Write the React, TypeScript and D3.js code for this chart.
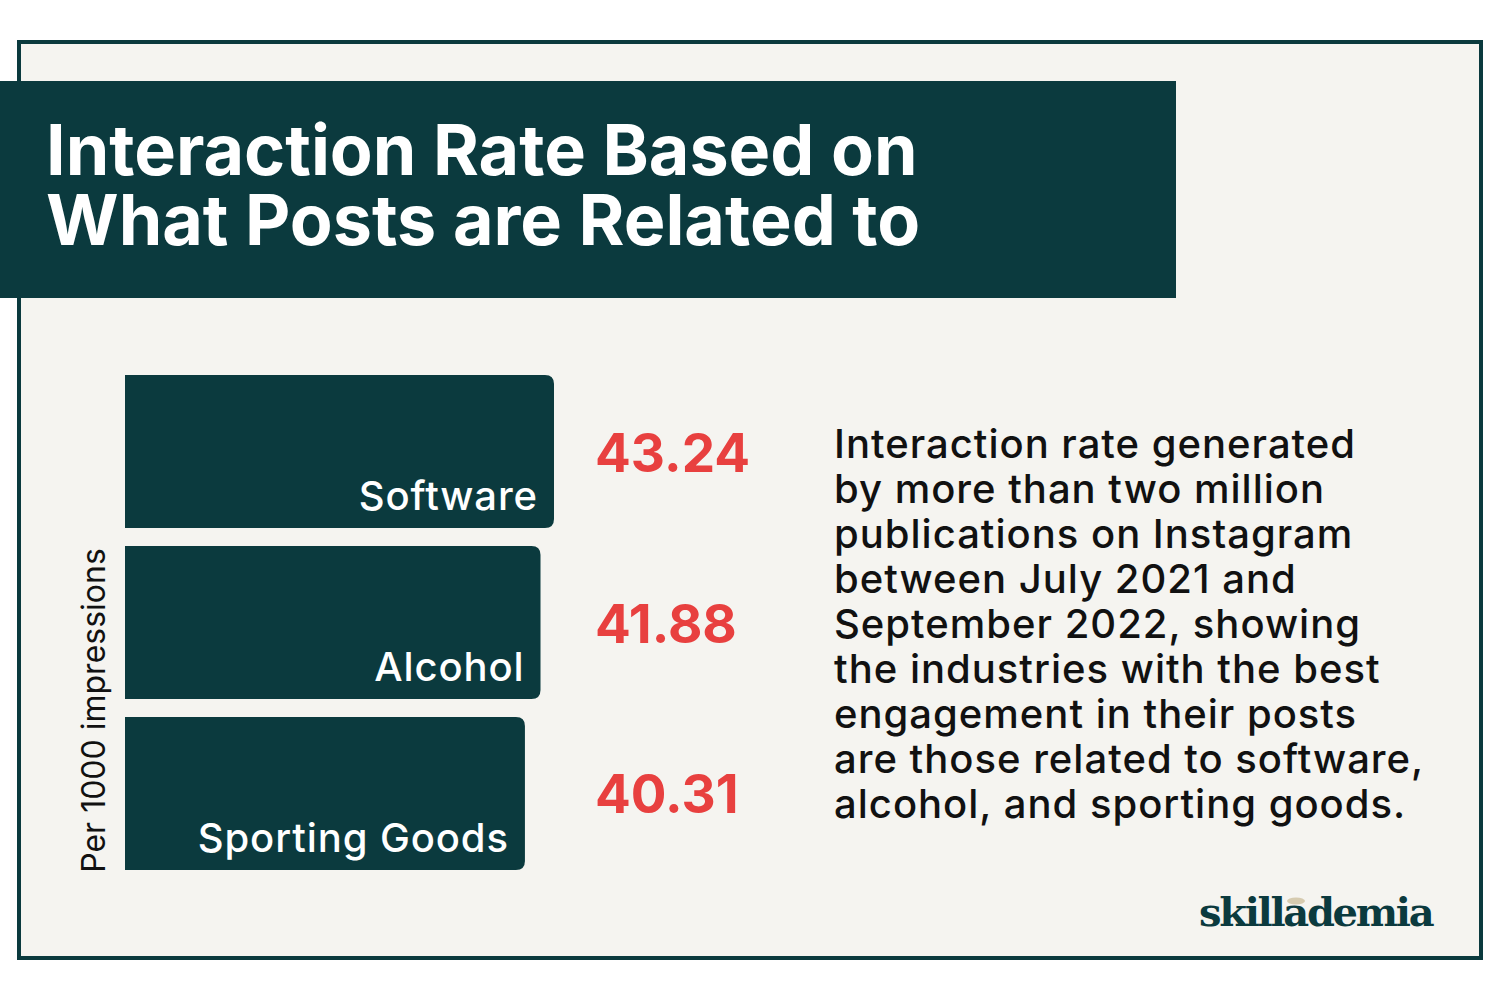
import React from 'react';
import * as d3 from 'd3';

const categories = ['Software', 'Alcohol', 'Sporting Goods'];
const rates = [43.24, 41.88, 40.31];
const titleLines = ['Interaction Rate Based on', 'What Posts are Related to'];
const noteLines = [
  'Interaction rate generated',
  'by more than two million',
  'publications on Instagram',
  'between July 2021 and',
  'September 2022, showing',
  'the industries with the best',
  'engagement in their posts',
  'are those related to software,',
  'alcohol, and sporting goods.',
];
const axisLabel = 'Per 1000 impressions';

const W = 1500;
const H = 1000;
const TEAL = '#0b3a3e';
const RED = '#e8403f';
const PAPER = '#f5f4f0';
const FONT = 'Inter, "Open Sans", sans-serif';

// bar with square left edge and rounded right corners
const barPath = (x0: number, y0: number, w: number, h: number, r: number) =>
  `M${x0},${y0}H${x0 + w - r}Q${x0 + w},${y0} ${x0 + w},${y0 + r}` +
  `V${y0 + h - r}Q${x0 + w},${y0 + h} ${x0 + w - r},${y0 + h}H${x0}Z`;

const App = () => {
  const barLeft = 125;
  const x = d3.scaleLinear().domain([0, 43.24]).range([0, 429]);
  const y = d3.scaleBand<string>().domain(categories).range([375, 870]).paddingInner(0.105);

  return (
    <svg width={W} height={H} style={{ display: 'block', position: 'absolute', left: 0, top: 0 }}>
      <rect width={W} height={H} fill="#fff" />
      <rect x={19} y={42} width={1462} height={916} fill={PAPER} stroke={TEAL} strokeWidth={4} />

      {/* title banner */}
      <rect x={0} y={81} width={1176} height={217} fill={TEAL} />
      <text fill="#fff" fontFamily={FONT} fontWeight={700} fontSize={70}>
        {titleLines.map((t, i) => (
          <tspan key={t} x={46} y={175 + i * 70}>
            {t}
          </tspan>
        ))}
      </text>

      {/* bars */}
      {categories.map((c, i) => {
        const y0 = y(c) as number;
        const bw = y.bandwidth();
        const w = x(rates[i]);
        return (
          <g key={c}>
            <path d={barPath(barLeft, y0, w, bw, 9)} fill={TEAL} />
            <text x={barLeft + w - 16} y={y0 + bw - 18} textAnchor="end" fill="#fff" fontFamily={FONT} fontWeight={500} fontSize={40} letterSpacing={0.9}>
              {c}
            </text>
            <text x={595} y={y0 + bw / 2 + 20} fill={RED} fontFamily={FONT} fontWeight={700} fontSize={53}>
              {rates[i].toFixed(2)}
            </text>
          </g>
        );
      })}

      <text
        transform={`translate(105, ${(375 + 870) / 2 + 88}) rotate(-90)`}
        textAnchor="middle"
        fill="#111"
        fontFamily={FONT}
        fontSize={32}
      >
        {axisLabel}
      </text>

      {/* description */}
      {noteLines.map((t, i) => (
        <text key={i} x={834} y={458 + i * 45} fill="#111" fontFamily={FONT} fontWeight={500} fontSize={40} letterSpacing={1}>
          {t}
        </text>
      ))}

      {/* logo */}
      <text x={1199} y={926} fill={TEAL} fontFamily='"DejaVu Serif", serif' fontWeight={900} fontSize={40} letterSpacing={-2.3}>
        skillademia
      </text>
      <ellipse cx={1296} cy={901} rx={9} ry={3.5} fill="#d6cbb0" />
    </svg>
  );
};

export default App;
